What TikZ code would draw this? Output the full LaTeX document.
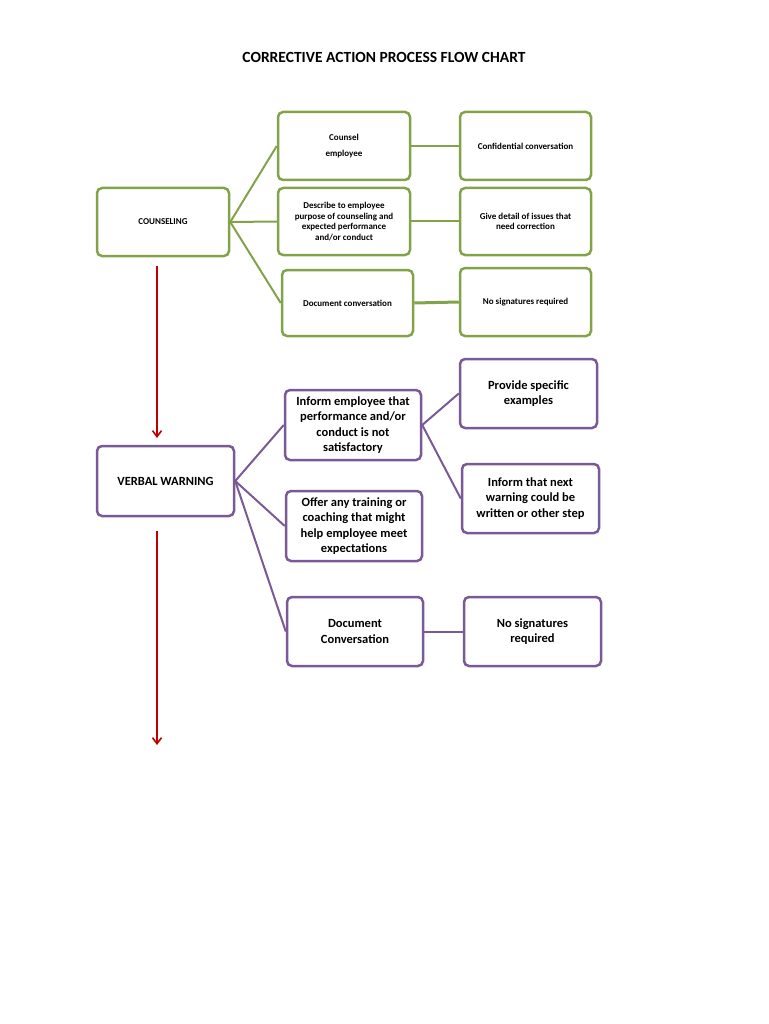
\documentclass[tikz,border=0pt]{standalone}
\usepackage{fontspec}
\usetikzlibrary{arrows.meta}
\setmainfont{Carlito}
\begin{document}
\begin{tikzpicture}[x=1pt,y=-1pt,
 gbox/.style={draw=gcol,line width=2.5pt,rounded corners=5pt,fill=white,align=center,font=\bfseries\fontsize{9}{10.5}\selectfont,inner sep=2pt},
 pbox/.style={draw=pcol,line width=2.5pt,rounded corners=5pt,fill=white,align=center,font=\bfseries\fontsize{12.5}{15.5}\selectfont,inner sep=2pt},
 gline/.style={draw=gcol,line width=2pt},
 pline/.style={draw=pcol,line width=2pt},
 rarrow/.style={draw=rcol,line width=1.6pt,-{Straight Barb[length=6pt,width=9pt]}}]
\definecolor{gcol}{HTML}{82A349}
\definecolor{pcol}{HTML}{7A5A96}
\definecolor{rcol}{HTML}{C00000}
\useasboundingbox (0,0) rectangle (768,1024);
\node[font=\bfseries\fontsize{15.5}{18}\selectfont] (title) at (384,57) {CORRECTIVE ACTION PROCESS FLOW CHART};
% green
\node[gbox,minimum width=132pt,minimum height=68pt] (c) at (163,222) {COUNSELING};
\node[gbox,minimum width=132pt,minimum height=68pt] (c1) at (344,146) {Counsel\\[5pt]employee};
\node[gbox,minimum width=132pt,minimum height=67pt] (c2) at (344,221.5) {Describe to employee\\purpose of counseling and\\expected performance\\and/or conduct};
\node[gbox,minimum width=131pt,minimum height=66pt] (c3) at (347.5,303) {Document conversation};
\node[gbox,minimum width=131pt,minimum height=68pt] (d1) at (525.5,146) {Confidential conversation};
\node[gbox,minimum width=131pt,minimum height=67pt] (d2) at (525.5,221.5) {Give detail of issues that\\need correction};
\node[gbox,minimum width=131pt,minimum height=68pt] (d3) at (525.5,302) {No signatures required};
\draw[gline] (c.east) -- (c1.west);
\draw[gline] (c.east) -- (c2.west);
\draw[gline] (c.east) -- (c3.west);
\draw[gline] (c1.east) -- (d1.west);
\draw[gline] (c2.east) -- (d2.west);
\draw[gline,line width=3pt] (c3.east) -- (d3.west);
% red arrows
\coordinate (r1s) at (157,266); \coordinate (r1e) at (157,438);
\coordinate (r2s) at (157,531); \coordinate (r2e) at (157,745);
\draw[rarrow] (r1s) -- (r1e);
\draw[rarrow] (r2s) -- (r2e);
% purple
\node[pbox,minimum width=137pt,minimum height=70pt] (v) at (165.5,481) {VERBAL WARNING};
\node[pbox,minimum width=136pt,minimum height=70pt] (v1) at (353,425) {Inform employee that\\performance and/or\\conduct is not\\satisfactory};
\node[pbox,minimum width=136pt,minimum height=70pt] (v2) at (354,526) {Offer any training or\\coaching that might\\help employee meet\\expectations};
\node[pbox,minimum width=136pt,minimum height=69pt] (v3) at (355,631.5) {Document\\Conversation};
\node[pbox,minimum width=137pt,minimum height=69pt] (w1) at (528.5,393.5) {Provide specific\\examples};
\node[pbox,minimum width=137pt,minimum height=69pt] (w2) at (530.5,498.5) {Inform that next\\warning could be\\written or other step};
\node[pbox,minimum width=137pt,minimum height=69pt] (w3) at (532.5,631.5) {No signatures\\required};
\draw[pline] (v.east) -- (v1.west);
\draw[pline] (v.east) -- (v2.west);
\draw[pline] (v.east) -- (v3.west);
\draw[pline] (v1.east) -- (w1.west);
\draw[pline] (v1.east) -- (w2.west);
\draw[pline] (v3.east) -- (w3.west);
\end{tikzpicture}
\end{document}
